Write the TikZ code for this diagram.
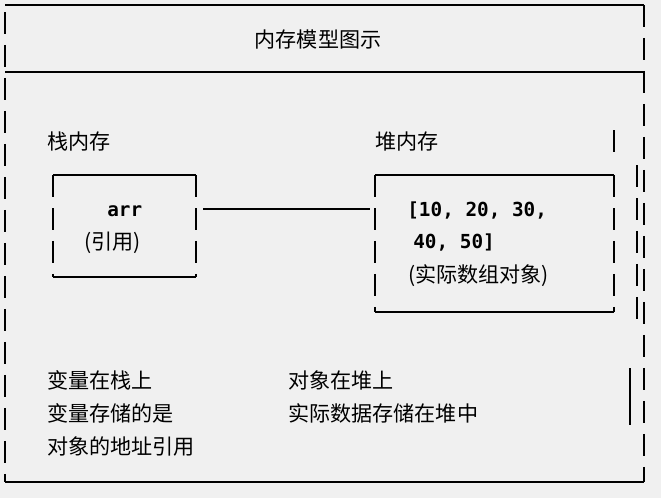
\documentclass[tikz,border=0pt]{standalone}
\usepackage{fontspec}
\setmonofont{DejaVu Sans Mono}
\newfontfamily\cjk{Noto Sans CJK SC}
\usetikzlibrary{positioning}

\begin{document}
\begin{tikzpicture}[x=0.02cm, y=-0.02cm,
    hline/.style={line width=0.9pt},
    vline/.style={line width=0.9pt, dash pattern=on 0.44cm off 0.22cm},
    txt/.style={font=\cjk\fontsize{12}{14}\selectfont, anchor=west, inner sep=0pt},
    code/.style={font=\ttfamily\bfseries\fontsize{11}{13}\selectfont, anchor=west, inner sep=0pt}]
    \fill[white!94!black] (0,0) rectangle (661,498);

    % outer frame
    \draw[hline] (5,5) -- (644,5);
    \draw[hline] (5,72) -- (644,72);
    \draw[hline] (5,482) -- (644,482);
    \draw[vline] (5,12) -- (5,482);
    \draw[vline] (644,5) -- (644,482);
    \node[txt, anchor=center] (title) at (318,40) {内存模型图示};

    % stack
    \node[txt] (stack) at (47,142) {栈内存};
    \draw[hline] (53,175) -- (196,175);
    \draw[hline] (53,277) -- (196,277);
    \draw[vline] (53,175) -- (53,277);
    \draw[vline] (196,175) -- (196,277);
    \node[code] (arr) at (107,211) {arr};
    \node[txt] (ref) at (84,243) {(引用)};

    % heap
    \node[txt] (heap) at (375,142) {堆内存};
    \draw[hline] (375,175) -- (614,175);
    \draw[hline] (375,312) -- (614,312);
    \draw[vline] (375,175) -- (375,312);
    \draw[vline] (614,175) -- (614,312);
    \node[code] (vals1) at (407,211) {[10, 20, 30,};
    \node[code] (vals2) at (413,243) {40, 50]};
    \node[txt] (obj) at (408,276) {(实际数组对象)};
    \draw[line width=0.9pt] (614,130) -- (614,152);
    \draw[vline] (637,165) -- (637,325);
    \draw[line width=0.9pt] (630,368) -- (630,425);

    % link
    \coordinate (la) at (203,209);
    \coordinate (lb) at (370,209);
    \draw[hline] (la) -- (lb);

    % notes
    \node[txt] (n1) at (47,380) {变量在栈上};
    \node[txt] (n2) at (47,413) {变量存储的是};
    \node[txt] (n3) at (47,446) {对象的地址引用};
    \node[txt] (n4) at (288,380) {对象在堆上};
    \node[txt] (n5) at (288,413) {实际数据存储在堆中};
\end{tikzpicture}
\end{document}
